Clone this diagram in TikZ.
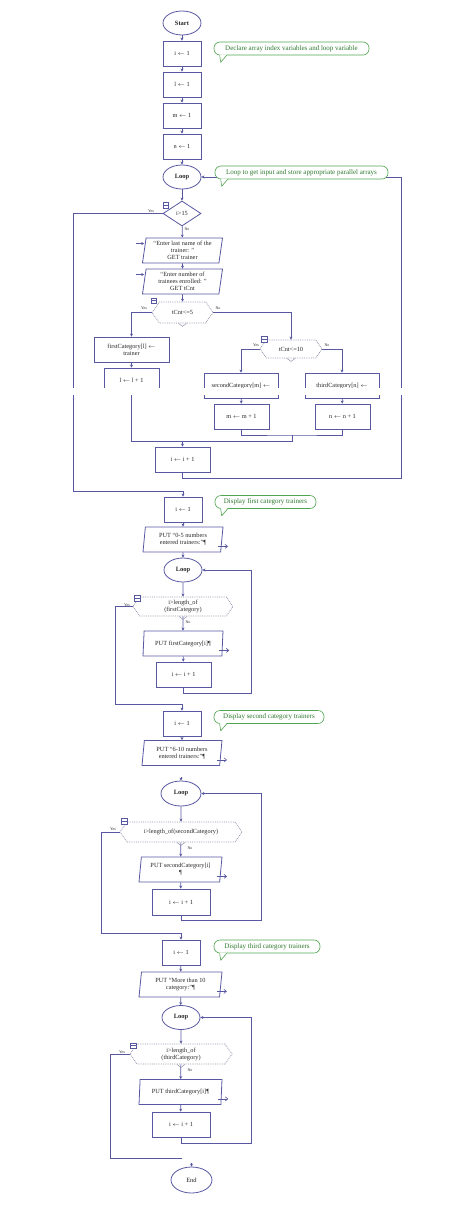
\documentclass[tikz,border=0pt]{standalone}
\usepackage{fontspec}
\setmainfont{Liberation Serif}
\usetikzlibrary{shapes.geometric,shapes.symbols,arrows.meta,calc}
\definecolor{lineblue}{RGB}{88,88,162}
\definecolor{cgreen}{RGB}{80,165,80}
\definecolor{cgtext}{RGB}{45,120,45}
\definecolor{txt}{RGB}{40,40,40}
\definecolor{dotgray}{RGB}{150,150,175}
\tikzset{
  base/.style={draw=lineblue, line width=0.8pt, fill=white, text=txt, align=center, inner sep=1pt, font=\fontsize{6.3}{7}\selectfont},
  proc/.style={base, rectangle, minimum width=38, minimum height=25},
  term/.style={base, ellipse, minimum width=38, minimum height=24, inner sep=0pt, font=\fontsize{6.5}{7}\selectfont\bfseries},
  dec/.style={base, diamond, minimum width=38, minimum height=25, inner sep=0pt},
  hexa/.style={base, draw=dotgray, densely dotted, signal, signal to=west and east, signal pointer angle=110, inner sep=0pt},
  io/.style={base, trapezium, trapezium left angle=79, trapezium right angle=101, trapezium stretches body, minimum width=80, minimum height=25, inner sep=0pt},
  cmt/.style={draw=cgreen, line width=0.6pt, fill=white, rounded corners=6pt, text=cgtext, minimum height=13, inner xsep=3pt, inner ysep=1pt, font=\fontsize{7}{7.5}\selectfont},
  flow/.style={draw=lineblue, line width=0.7pt, -{Stealth[length=3pt,width=3pt]}},
  conn/.style={draw=lineblue, line width=0.7pt},
  outarr/.style={draw=lineblue, line width=0.6pt, -{Straight Barb[length=2.5pt,width=4pt]}},
  lbl/.style={font=\fontsize{4}{4}\selectfont, text=txt, inner sep=0pt},
  tog/.pic={\draw[lineblue, line width=0.4pt, fill=white] (-2.7,-2.7) rectangle (2.7,2.7); \draw[lineblue, line width=0.4pt] (-2.7,0) -- (2.7,0);},
  notch/.style={draw=dotgray, line width=0.5pt},
}
\begin{document}
\begin{tikzpicture}[x=1pt,y=-1pt]
\useasboundingbox (0,0) rectangle (474,1212);
\fill[white] (0,0) rectangle (474,1212);

% ---------- section 1 ----------
\node[term] (start) at (182,23) {Start};
\node[proc] (i1) at (182,53.5) {i $\leftarrow$ 1};
\node[proc] (l1) at (182,84.5) {l $\leftarrow$ 1};
\node[proc] (m1) at (182,115.5) {m $\leftarrow$ 1};
\node[proc] (n1) at (182,146.5) {n $\leftarrow$ 1};
\node[term] (loop1) at (182,177) {Loop};
\node[dec] (d1) at (182,213.5) {i\textgreater15};
\node[io] (p1) at (182.5,250.5) {“Enter last name of the\\trainer: ”\\GET trainer};
\node[io] (p2) at (182.5,281.5) {“Enter number of\\trainees enrolled: ”\\GET tCnt};
\node[hexa, minimum width=61, minimum height=21] (h1) at (182.5,312.5) {tCnt\textless=5};
\node[proc, minimum width=75] (fc) at (131.5,349.5) {firstCategory[l] $\leftarrow$\\trainer};
\node[proc, minimum width=55] (lbox) at (131.5,380.5) {l $\leftarrow$ l + 1};
\node[hexa, minimum width=62, minimum height=18] (h2) at (291,349) {tCnt\textless=10};
\node[proc, minimum width=74] (sc) at (241,385.5) {secondCategory[m] $\leftarrow$};
\node[proc, minimum width=74] (tc) at (342,385.5) {thirdCategory[n] $\leftarrow$};
\node[proc, minimum width=55] (mb) at (241.5,416.5) {m $\leftarrow$ m + 1};
\node[proc, minimum width=55] (nb) at (342.5,416.5) {n $\leftarrow$ n + 1};
\node[proc, minimum width=55] (ii1) at (182.5,459.5) {i $\leftarrow$ i + 1};

\draw[flow] (start) -- (i1);
\draw[flow] (i1) -- (l1);
\draw[flow] (l1) -- (m1);
\draw[flow] (m1) -- (n1);
\draw[flow] (n1) -- (loop1);
\draw[flow] (loop1) -- (d1);
\draw[flow] (d1) -- (p1);
\draw[flow] (p1) -- (p2);
\draw[flow] (p2) -- (h1);
\draw[flow] ($(p1.top left corner)+(-10,6)$) -- ++(8.5,0);
\draw[flow] ($(p2.top left corner)+(-10,6)$) -- ++(8.5,0);
\draw[flow] (h1.west) -| (fc.north);
\draw[flow] (h1.east) -| (h2.north);
\draw[flow] (fc) -- (lbox);
\draw[flow] (h2.west) -| (sc.north);
\draw[flow] (h2.east) -| (tc.north);
\draw[flow] (sc) -- (mb);
\draw[flow] (tc) -- (nb);
\coordinate (j1) at (292,435);
\coordinate (j2) at (182.5,441);
\draw[conn] (mb.south) |- (j1) -| (nb.south);
\draw[conn] (j1) |- (j2);
\draw[conn] (lbox.south) |- (j2);
\draw[flow] (j2) -- (ii1);
\draw[flow] (ii1.south) |- (401,478) |- (loop1.east);
\draw[notch] ($(h1.south)+(-4,0)$) -- ($(h1.south)+(0,3)$) -- ($(h1.south)+(4,0)$);
\draw[notch] ($(h2.south)+(-4,0)$) -- ($(h2.south)+(0,3)$) -- ($(h2.south)+(4,0)$);
\node[lbl] (y1) at (151,211) {Yes};
\node[lbl] (no1) at (187,229) {No};
\node[lbl] (y2) at (144,308) {Yes};
\node[lbl] (no2) at (218,308) {No};
\node[lbl] (y3) at (256,345) {Yes};
\node[lbl] (no3) at (327,345) {No};
\pic at (165.5,205) {tog};
\pic at (153.5,300.5) {tog};
\pic at (264,339) {tog};

% ---------- section 2 ----------
\node[proc] (i2) at (183,509.5) {i $\leftarrow$ 1};
\node[io] (put1) at (183,539.5) {PUT “0-5 numbers\\entered trainers:”¶};
\node[term] (loop2) at (183,570) {Loop};
\node[hexa, minimum width=100, minimum height=19] (hx3) at (183,606.5) {i\textgreater length\_of\\(firstCategory)};
\node[io] (put1b) at (183,643.5) {PUT firstCategory[i]¶};
\node[proc, minimum width=55] (ii2) at (183.5,674.5) {i $\leftarrow$ i + 1};

\draw[flow] (d1.west) -| (73,491) -| (i2.north);
\draw[flow] (i2) -- (put1);
\draw[flow] (put1) -- (loop2);
\draw[flow] (loop2) -- (hx3);
\draw[flow] (hx3) -- (put1b);
\draw[flow] (put1b) -- (ii2);
\draw[flow] (ii2.south) |- (251,693) |- (loop2.east);
\draw[outarr] ($(put1.bottom right corner)+(-3,-6)$) -- ++(10,0);
\draw[outarr] ($(put1b.bottom right corner)+(-3,-6)$) -- ++(10,0);
\draw[notch] ($(hx3.south)+(-4,0)$) -- ($(hx3.south)+(0,3)$) -- ($(hx3.south)+(4,0)$);
\node[lbl] (y4) at (127,605) {Yes};
\node[lbl] (no4) at (188,622) {No};
\pic at (137,598) {tog};

% ---------- section 3 ----------
\node[proc] (i3) at (182,723.5) {i $\leftarrow$ 1};
\node[io] (put2) at (182,753) {PUT “6-10 numbers\\entered trainers:”¶};
\node[term, minimum width=40, minimum height=25] (loop3) at (181,793.5) {Loop};
\node[hexa, minimum width=122, minimum height=20] (hx4) at (181,832) {i\textgreater length\_of(secondCategory)};
\node[io, minimum width=83] (put2b) at (180.5,869.5) {PUT secondCategory[i]\\¶};
\node[proc, minimum width=58, minimum height=26] (ii3) at (181,902) {i $\leftarrow$ i + 1};

\draw[flow] (hx3.west) -| (115,704) -| (i3.north);
\draw[flow] (i3) -- (put2);
\coordinate (t3) at (181,777);
\draw[flow] (t3) -- (loop3.north);
\draw[flow] (loop3) -- (hx4);
\draw[flow] (hx4) -- (put2b);
\draw[flow] (put2b) -- (ii3);
\draw[flow] (ii3.south) |- (261,920) |- (loop3.east);
\draw[outarr] ($(put2.bottom right corner)+(-3,-6)$) -- ++(10,0);
\draw[outarr] ($(put2b.bottom right corner)+(-3,-6)$) -- ++(10,0);
\draw[notch] ($(hx4.south)+(-4,0)$) -- ($(hx4.south)+(0,3)$) -- ($(hx4.south)+(4,0)$);
\node[lbl] (y5) at (113,829) {Yes};
\node[lbl] (no5) at (190,848) {No};
\pic at (124,821) {tog};

% ---------- section 4 ----------
\node[proc] (i4) at (181,952.5) {i $\leftarrow$ 1};
\node[io, minimum width=83] (put3) at (180.5,984.5) {PUT “More than 10\\category:”¶};
\node[term] (loop4) at (181,1017.5) {Loop};
\node[hexa, minimum width=102, minimum height=20] (hx5) at (181,1054) {i\textgreater length\_of\\(thirdCategory)};
\node[io, minimum width=83] (put3b) at (180.5,1092) {PUT thirdCategory[i]¶};
\node[proc, minimum width=58] (ii4) at (181,1124.5) {i $\leftarrow$ i + 1};
\node[term, minimum width=41, minimum height=26, font=\fontsize{6.5}{7}\selectfont] (endn) at (191.5,1180) {End};

\draw[flow] (hx4.west) -| (101,933) -| (i4.north);
\draw[flow] (i4) -- (put3);
\draw[flow] (put3) -- (loop4);
\draw[flow] (loop4) -- (hx5);
\draw[flow] (hx5) -- (put3b);
\draw[flow] (put3b) -- (ii4);
\draw[flow] (ii4.south) |- (251,1143) |- (loop4.east);
\coordinate (t5) at (182,1158);
\draw[conn] (hx5.west) -| (110,1158) -- (t5);
\coordinate (t6) at (191.5,1163);
\draw[flow] (t6) -- (endn.north);
\draw[outarr] ($(put3.bottom right corner)+(-3,-6)$) -- ++(10,0);
\draw[outarr] ($(put3b.bottom right corner)+(-3,-6)$) -- ++(10,0);
\draw[notch] ($(hx5.south)+(-4,0)$) -- ($(hx5.south)+(0,3)$) -- ($(hx5.south)+(4,0)$);
\node[lbl] (y6) at (122,1052) {Yes};
\node[lbl] (no6) at (190,1070) {No};
\pic at (133,1045.5) {tog};

% ---------- comments ----------
\node[cmt, minimum width=155] (c1) at (291.5,48.5) {Declare array index variables and loop variable};
\node[cmt, minimum width=173] (c2) at (301.5,172.5) {Loop to get input and store appropriate parallel arrays};
\node[cmt, minimum width=101] (c3) at (265.5,502) {Display first category trainers};
\node[cmt, minimum width=110] (c4) at (269,717) {Display second category trainers};
\node[cmt, minimum width=106] (c5) at (267,946.5) {Display third category trainers};
\foreach \c in {c1,c2,c3,c4,c5}{
  \fill[white] ($(\c.south west)+(6,-0.8)$) -- ($(\c.south west)+(7,7)$) -- ($(\c.south west)+(13,-0.8)$) -- cycle;
  \draw[cgreen, line width=0.6pt, line join=round] ($(\c.south west)+(6,0)$) -- ($(\c.south west)+(7,7)$) -- ($(\c.south west)+(13,0)$);
}

% ---------- white band across the page ----------
\fill[white] (0,387.5) rectangle (474,394.5);
\end{tikzpicture}
\end{document}
